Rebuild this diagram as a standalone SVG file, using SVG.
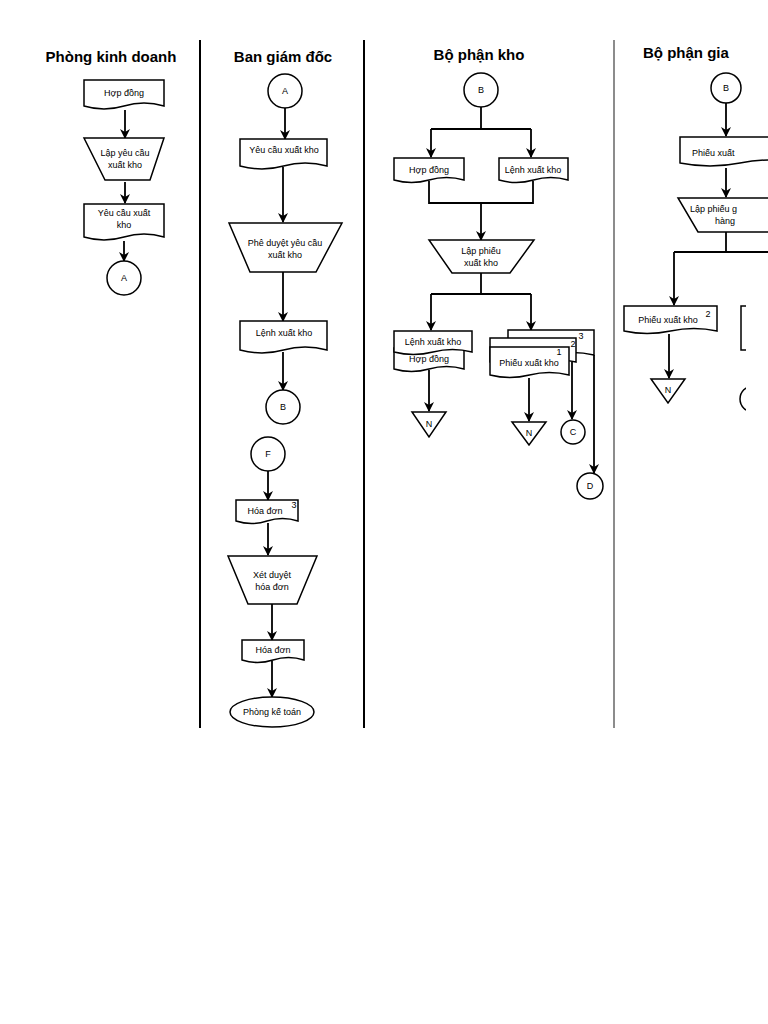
<svg xmlns="http://www.w3.org/2000/svg" width="768" height="1024" viewBox="0 0 768 1024">
<defs>
<marker id="ah" viewBox="0 0 10 10" refX="9" refY="5" markerWidth="10" markerHeight="10" orient="auto" markerUnits="userSpaceOnUse"><path d="M0,0 L10,5 L0,10 L3,5 Z" fill="#000"/></marker>
<clipPath id="cp"><rect x="0" y="0" width="746" height="1024"/></clipPath>
</defs>
<style>
.s{fill:#fff;stroke:#000;stroke-width:1.5}
.t{font-family:"Liberation Sans",Arial,sans-serif;font-size:9px;text-anchor:middle;fill:#000}
.h{font-family:"Liberation Sans",Arial,sans-serif;font-size:15px;font-weight:bold;text-anchor:middle;fill:#000}
.c path,.c line{fill:none;stroke:#000;stroke-width:1.8}
.a{marker-end:url(#ah)}
</style>
<rect width="768" height="1024" fill="#fff"/>
<g id="lanes">
<line x1="200" y1="40" x2="200" y2="728" stroke="#000" stroke-width="2"/>
<line x1="364" y1="40" x2="364" y2="728" stroke="#000" stroke-width="2"/>
<line x1="614" y1="40" x2="614" y2="728" stroke="#666" stroke-width="1.5"/>
<text class="h" x="111" y="62">Phòng kinh doanh</text>
<text class="h" x="283" y="62">Ban giám đốc</text>
<text class="h" x="479" y="60">Bộ phận kho</text>
<text class="h" x="643" y="58" style="text-anchor:start">Bộ phận gia</text>
</g>
<g class="c">
<line class="a" x1="125" y1="110" x2="125" y2="138"/>
<line class="a" x1="125" y1="182" x2="125" y2="203"/>
<line class="a" x1="124" y1="241" x2="124" y2="261"/>
<line class="a" x1="285" y1="108" x2="285" y2="139"/>
<line class="a" x1="283" y1="167" x2="283" y2="222"/>
<line class="a" x1="283" y1="272" x2="283" y2="321"/>
<line class="a" x1="283" y1="352" x2="283" y2="390"/>
<line class="a" x1="268" y1="471" x2="268" y2="500"/>
<line class="a" x1="268" y1="523" x2="268" y2="555"/>
<line class="a" x1="272" y1="604" x2="272" y2="640"/>
<line class="a" x1="272" y1="661" x2="272" y2="697"/>
<path d="M481,107 V129 M431,129 H531"/>
<line class="a" x1="431" y1="129" x2="431" y2="157"/>
<line class="a" x1="531" y1="129" x2="531" y2="157"/>
<path d="M429,181 V203 H533 V181"/>
<line class="a" x1="481" y1="203" x2="481" y2="240"/>
<path d="M481,273 V294 M431,294 H531"/>
<line class="a" x1="431" y1="294" x2="431" y2="330"/>
<line class="a" x1="531" y1="294" x2="531" y2="330"/>
<line class="a" x1="429" y1="370" x2="429" y2="411"/>
<line class="a" x1="529" y1="378" x2="529" y2="421"/>
<line class="a" x1="572" y1="362" x2="572" y2="419"/>
<line class="a" x1="594" y1="355" x2="594" y2="473"/>
<line class="a" x1="726" y1="102" x2="726" y2="136"/>
<line class="a" x1="726" y1="168" x2="726" y2="197"/>
<path d="M726,232 V252 M674,252 H770"/>
<line class="a" x1="674" y1="252" x2="674" y2="305"/>
<line class="a" x1="669" y1="334" x2="669" y2="378"/>
</g>
<g id="n1"><path class="s" d="M84,80 H164 V106 q-20,-6 -40,0 t-40,0 Z"/><text class="t" x="124" y="96">Hợp đồng</text></g>
<g id="n2"><path class="s" d="M84,138 H164 L150,180 H105 Z"/><text class="t" x="125" y="156">Lập yêu cầu</text><text class="t" x="125" y="168">xuất kho</text></g>
<g id="n3"><path class="s" d="M84,204 H164 V237 q-20,-6 -40,0 t-40,0 Z"/><text class="t" x="124" y="216">Yêu cầu xuất</text><text class="t" x="124" y="228">kho</text></g>
<g id="n4"><circle class="s" cx="124" cy="278" r="17"/><text class="t" x="124" y="281">A</text></g>
<g id="n5"><circle class="s" cx="285" cy="91" r="17"/><text class="t" x="285" y="94">A</text></g>
<g id="n6"><path class="s" d="M240,139 H327 V166 q-22,-6 -43.5,0 t-43.5,0 Z"/><text class="t" x="284" y="153">Yêu cầu xuất kho</text></g>
<g id="n7"><path class="s" d="M229,223 H342 L316,272 H250 Z"/><text class="t" x="285" y="246">Phê duyệt yêu cầu</text><text class="t" x="285" y="258">xuất kho</text></g>
<g id="n8"><path class="s" d="M240,321 H327 V350 q-22,-6 -43.5,0 t-43.5,0 Z"/><text class="t" x="284" y="336">Lệnh xuất kho</text></g>
<g id="n9"><circle class="s" cx="283" cy="407" r="17"/><text class="t" x="283" y="410">B</text></g>
<g id="n10"><circle class="s" cx="268" cy="454" r="17"/><text class="t" x="268" y="457">F</text></g>
<g id="n11"><path class="s" d="M236,500 H298 V521 q-15.5,-5 -31,0 t-31,0 Z"/><text class="t" x="265" y="514">Hóa đơn</text><text class="t" x="294" y="508">3</text></g>
<g id="n12"><path class="s" d="M228,556 H317 L297,604 H248 Z"/><text class="t" x="272" y="578">Xét duyệt</text><text class="t" x="272" y="590">hóa đơn</text></g>
<g id="n13"><path class="s" d="M242,640 H304 V660 q-15.5,-5 -31,0 t-31,0 Z"/><text class="t" x="273" y="653">Hóa đơn</text></g>
<g id="n14"><ellipse class="s" cx="272" cy="712" rx="42" ry="15"/><text class="t" x="272" y="715">Phòng kế toán</text></g>
<g id="n15"><circle class="s" cx="481" cy="90" r="17"/><text class="t" x="481" y="93">B</text></g>
<g id="n16"><path class="s" d="M394,158 H464 V180 q-17.5,-5 -35,0 t-35,0 Z"/><text class="t" x="429" y="173">Hợp đồng</text></g>
<g id="n17"><path class="s" d="M499,158 H568 V180 q-17.25,-5 -34.5,0 t-34.5,0 Z"/><text class="t" x="533" y="173">Lệnh xuất kho</text></g>
<g id="n18"><path class="s" d="M429,240 H534 L510,273 H452 Z"/><text class="t" x="481" y="254">Lập phiếu</text><text class="t" x="481" y="266">xuất kho</text></g>
<g id="n19"><path class="s" d="M394,348 H464 V369 q-17.5,-5 -35,0 t-35,0 Z"/><text class="t" x="429" y="362">Hợp đồng</text>
<path class="s" d="M394,331 H472 V352 q-19.5,-5 -39,0 t-39,0 Z"/><text class="t" x="433" y="345">Lệnh xuất kho</text></g>
<g id="n20"><path class="s" d="M412,412 H446 L429,437 Z"/><text class="t" x="429" y="427">N</text></g>
<g id="n21"><path class="s" d="M508,330 H594 V355 q-21.5,-5 -43,0 t-43,0 Z"/><text class="t" x="581" y="339">3</text>
<path class="s" d="M490,338 H576 V362 q-21.5,-5 -43,0 t-43,0 Z"/><text class="t" x="573" y="347">2</text>
<path class="s" d="M490,347 H569 V375 q-19.75,-5 -39.5,0 t-39.5,0 Z"/><text class="t" x="559" y="355">1</text><text class="t" x="529" y="366">Phiếu xuất kho</text></g>
<g id="n22"><path class="s" d="M512,422 H546 L529,445 Z"/><text class="t" x="529" y="436">N</text></g>
<g id="n23"><circle class="s" cx="573" cy="432" r="12"/><text class="t" x="573" y="435">C</text></g>
<g id="n24"><circle class="s" cx="590" cy="486" r="13"/><text class="t" x="590" y="489">D</text></g>
<g id="n25"><circle class="s" cx="726" cy="88" r="15"/><text class="t" x="726" y="91">B</text></g>
<g id="n26"><path class="s" d="M680,137 H800 V163 q-30,-6 -60,0 t-60,0 Z"/><text class="t" x="692" y="156" style="text-anchor:start">Phiếu xuất</text></g>
<g id="n27"><path class="s" d="M678,198 H800 V232 H698 Z"/><text class="t" x="690" y="212" style="text-anchor:start">Lập phiếu g</text><text class="t" x="725" y="224">hàng</text></g>
<g id="n28"><path class="s" d="M624,306 H717 V331 q-23,-5 -46.5,0 t-46.5,0 Z"/><text class="t" x="668" y="323">Phiếu xuất kho</text><text class="t" x="708" y="317">2</text></g>
<g id="n29"><path class="s" d="M651,379 H685 L668,403 Z"/><text class="t" x="668" y="393">N</text></g>
<g id="n30" clip-path="url(#cp)"><path class="s" d="M741,306 H830 V350 H741 Z"/></g>
<g id="n31" clip-path="url(#cp)"><circle class="s" cx="753" cy="399" r="13"/></g>
</svg>
